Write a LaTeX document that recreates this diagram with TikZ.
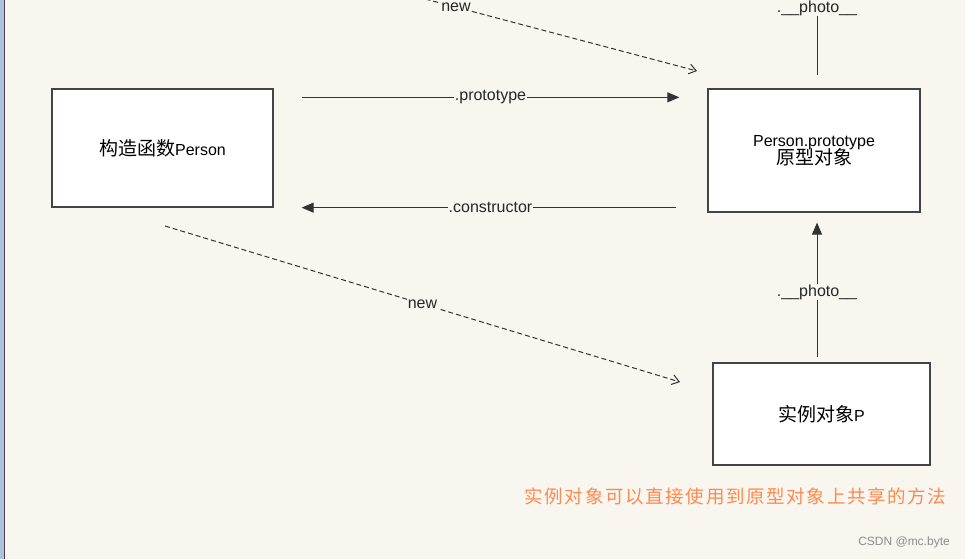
\documentclass[tikz,border=0pt]{standalone}
\usepackage{fontspec}
\setmainfont{Liberation Sans}
\newfontfamily\cjk{Noto Sans CJK SC}
\newfontfamily\cjkspaced[LetterSpace=9]{Noto Sans CJK SC}
\usetikzlibrary{arrows.meta}
\definecolor{paper}{HTML}{F9F6F0}
\definecolor{edge}{HTML}{444444}
\definecolor{notecolor}{HTML}{FF8A50}
\definecolor{wmgray}{HTML}{8C8C8C}
\definecolor{frameblue}{HTML}{AFC0E0}
\tikzset{
  objbox/.style={draw=edge, line width=1.3pt, fill=white, align=center, inner sep=0pt, font=\fontsize{16}{18}\selectfont},
  link/.style={draw=black!80, line width=1pt},
  solidarrow/.style={link, -{Triangle[length=12pt,width=10pt]}},
  newarrow/.style={link, dash pattern=on 5pt off 3pt, -{Straight Barb[length=7pt,width=10pt]}},
  tag/.style={fill=paper, inner sep=0.5pt, text=black!85, font=\fontsize{16}{18}\selectfont}
}

\begin{document}
\begin{tikzpicture}[x=1pt, y=-1pt]
  \fill[paper] (0,0) rectangle (965,559);
  \clip (0,0) rectangle (965,559);
  % window edge on the left
  \fill[frameblue] (0,0) rectangle (3.5,559);
  \draw[edge, line width=1.2pt] (4.5,0) -- (4.5,559);

  \node[objbox, minimum width=221pt, minimum height=118pt] (ctor) at (162.5,148) {{\cjk\fontsize{19}{20}\selectfont 构造函数}Person};
  \node[objbox, minimum width=212pt, minimum height=123pt] (proto) at (814,150.5) {Person.prototype\\[-2pt]{\cjk\fontsize{19}{20}\selectfont 原型对象}};
  \node[objbox, minimum width=217pt, minimum height=102pt] (inst) at (821.5,414) {{\cjk\fontsize{19}{20}\selectfont 实例对象}P};

  \draw[solidarrow, shorten <=28pt, shorten >=28pt] ([yshift=-9pt]ctor.north east) -- node[tag] {.prototype} ([yshift=-9pt]proto.north west);
  \draw[solidarrow, shorten <=31pt, shorten >=28pt] ([yshift=5pt]proto.south west) -- node[tag] {.constructor} (ctor.south east);
  \draw[solidarrow, shorten <=5pt, shorten >=10pt] ([xshift=-4.5pt]inst.north) -- node[tag, pos=0.47] {.\_\_photo\_\_} ([xshift=3pt]proto.south);

  % __photo__ of the prototype, going up out of view
  \coordinate (photoup) at (817,8);
  \draw[link, shorten <=13pt] ([xshift=3pt]proto.north) -- (photoup) node[tag] {.\_\_photo\_\_};

  % new arrows
  \coordinate (newfromA) at (410,-5);
  \coordinate (newtoA) at (697,71);
  \draw[newarrow] (newfromA) -- node[tag, pos=0.16] {new} (newtoA);
  \coordinate (newfromB) at (165,226);
  \coordinate (newtoB) at (680,382);
  \draw[newarrow] (newfromB) -- node[tag] {new} (newtoB);

  \node[text=notecolor, font=\fontsize{18.5}{20}\selectfont] (tip) at (735.5,496) {\cjkspaced 实例对象可以直接使用到原型对象上共享的方法};
  \node[text=wmgray, font=\fontsize{12}{14}\selectfont] (wm) at (904,542) {CSDN @mc.byte};
\end{tikzpicture}
\end{document}
